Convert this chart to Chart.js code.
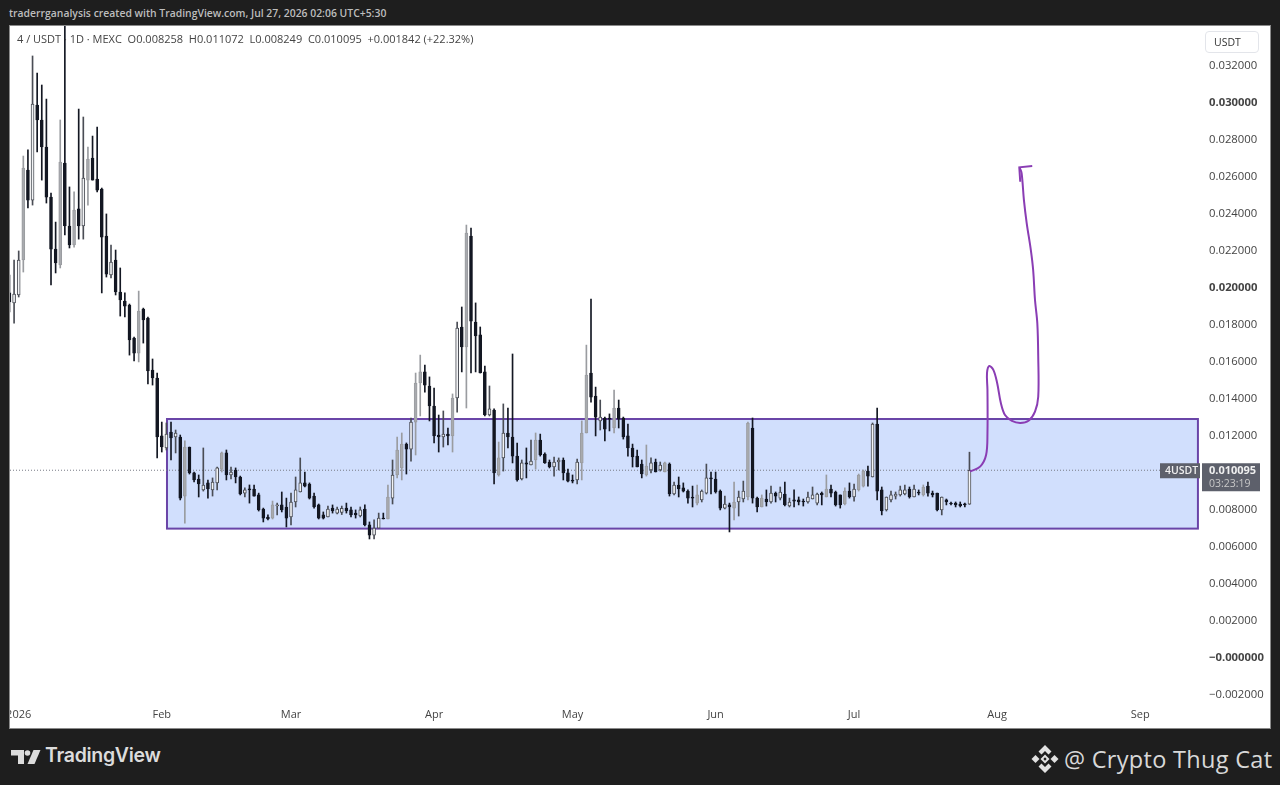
<!DOCTYPE html>
<html><head><meta charset="utf-8">
<style>
html,body{margin:0;padding:0;background:#1e1e1e;width:1280px;height:785px;overflow:hidden;font-family:"Open Sans",sans-serif}
#c{position:absolute;left:10px;top:26px;width:1260px;height:702px;background:#fff;box-shadow:0 0 0 1px #8a8a8a}
.t{position:absolute;white-space:pre}
</style></head><body>
<canvas id="c" width="1260" height="702"></canvas>
<div class="t" style="left:9px;top:6px;font-size:10.4px;font-weight:600;color:#bdbdbd">traderrganalysis created with TradingView.com, Jul 27, 2026 02:06 UTC+5:30</div>
<div class="t" style="left:17px;top:31px;font-size:11px;color:#444">4 / USDT · 1D · MEXC  O0.008258  H0.011072  L0.008249  C0.010095  +0.001842 (+22.32%)</div>
<div class="t" style="left:1205px;top:31px;width:52px;height:20px;border:1px solid #e3e5ea;border-radius:4px;font-size:10.5px;line-height:20px;color:#333;text-indent:8px">USDT</div>
<svg style="position:absolute;left:11px;top:749px" width="30" height="16" viewBox="0 0 30 16"><path d="M0 1h13v14H7V6.5H0z" fill="#dcdcdc"/><circle cx="16.5" cy="4" r="2.8" fill="#dcdcdc"/><path d="M22.5 1H29.5L23.5 15H16.5z" fill="#dcdcdc"/></svg>
<div class="t" style="left:45px;top:743px;font-size:19.5px;font-weight:600;letter-spacing:-.3px;color:#dcdcdc;font-family:Inter,'Open Sans',sans-serif">TradingView</div>
<svg style="position:absolute;left:1031px;top:745px" width="28" height="28" viewBox="0 0 28 28"><g fill="#e2e2e2"><path d="M14 0l6.5 6.5-3 3L14 6l-3.5 3.5-3-3z"/><path d="M14 28l6.5-6.5-3-3L14 22l-3.5-3.5-3 3z"/><path d="M4.5 10l4 4-4 4-4-4z"/><path d="M23.5 10l4 4-4 4-4-4z"/><path d="M14 9.5l4.5 4.5-4.5 4.5-4.5-4.5zM14 12.3L12.3 14l1.7 1.7 1.7-1.7z" fill-rule="evenodd"/></g></svg>
<div class="t" style="left:1064px;top:743px;font-size:23.5px;letter-spacing:.3px;color:#d8d8d8">@ Crypto Thug Cat</div>
<script src="https://cdn.jsdelivr.net/npm/chart.js@4"></script>
<script>
const firstDay=-2;
const opens=[.01968,.01914,.01957,.02146,.02632,.0247,.02984,.02903,.02757,.02486,
.02205,.02119,.0267,.0233,.02227,.02422,.0233,.02578,.02697,.02584,
.0253,.02276,.02065,.02146,.01973,.01924,.01903,.01724,.01643,.01881,
.01832,.01551,.01508,.01195,.0113,.01216,.01189,.01189,.0087,.01135,
.00995,.00962,.00903,.00941,.00903,.00941,.01016,.01103,.00984,.01011,
.00973,.00886,.00908,.00908,.00876,.008,.00757,.00751,.00816,.00822,
.00811,.00757,.00838,.00892,.00941,.00935,.0087,.00822,.00768,.00757,
.00805,.00778,.00781,.00805,.00795,.00778,.00762,.008,.00714,.00659,
.00697,.00751,.00746,.00859,.00984,.01022,.01151,.01124,.0127,.01481,
.01541,.01465,.01357,.012,.01189,.01205,.01195,.014,.01784,.01676,
.02276,.01811,.01741,.01541,.01308,.01335,.00984,.01076,.01211,.01189,
.01086,.00962,.01049,.01038,.01065,.01173,.01097,.01054,.01027,.01054,
.01065,.00995,.00957,.00957,.01049,.01211,.01535,.01411,.01276,.01292,
.01292,.01238,.01346,.01292,.01195,.0113,.01086,.01043,.00984,.01011,
.01054,.01011,.01,.01043,.00881,.0093,.00914,.00897,.00865,.00832,
.00849,.00886,.00968,.00962,.00897,.00805,.00822,.00805,.00838,.00854,
.00865,.01238,.00859,.00811,.00854,.00838,.00886,.00859,.00881,.00816,
.00849,.00849,.00843,.00838,.00854,.00832,.00886,.00865,.00908,.00892,
.00876,.00827,.00897,.00865,.00903,.00924,.01005,.00973,.01259,.00903,
.00795,.00849,.0087,.00876,.00881,.00908,.00865,.00892,.00876,.00924,
.00886,.00886,.00795,.00849,.00832,.00832,.00827,.00827,.008258];
const highs=[.02065,.02146,.02195,.02708,.02741,.03249,.03157,.03092,.03016,.02508,
.02351,.02903,.0349,.02541,.02514,.02962,.02919,.02757,.02816,.02865,
.02535,.02395,.02227,.022,.02103,.01968,.01908,.0173,.01978,.01886,
.01838,.01611,.01535,.0127,.01265,.0127,.01227,.012,.01168,.01135,
.01,.00984,.0113,.00957,.00968,.01027,.01108,.01119,.01027,.01022,
.00978,.00914,.0093,.0093,.00886,.00805,.00768,.00843,.00832,.00892,
.00859,.00886,.00973,.01076,.01,.00941,.00886,.00827,.00784,.00816,
.00822,.00811,.00816,.00832,.00811,.00795,.00811,.00822,.0073,.00741,
.00778,.00778,.0093,.01065,.01189,.01211,.01157,.01292,.01535,.01632,
.01578,.01514,.01454,.01308,.0133,.01238,.01422,.01811,.01892,.02335,
.02319,.01914,.01784,.01573,.01465,.01341,.01162,.01368,.01346,.01638,
.01157,.01065,.0113,.01173,.01211,.01205,.01103,.01065,.01081,.01076,
.01076,.01016,.00984,.0107,.01276,.01686,.01935,.01459,.01389,.01297,
.01314,.01443,.01389,.01297,.01259,.01151,.01119,.01065,.01146,.01076,
.0107,.01054,.01054,.01049,.00946,.00973,.00941,.00903,.00924,.0093,
.00903,.01043,.01,.01,.00903,.0087,.00832,.00946,.00897,.00951,
.0127,.01292,.00865,.00876,.00903,.00924,.00892,.00919,.00946,.00859,
.00903,.00865,.00854,.00892,.00919,.00886,.00892,.00984,.0093,.00897,
.00876,.00914,.00941,.00935,.00989,.01011,.01032,.01265,.01346,.00919,
.00865,.00897,.00892,.00924,.0093,.00919,.0093,.00903,.0093,.00946,
.00897,.00886,.00865,.00854,.00838,.00838,.00838,.00832,.011072];
const lows=[.01865,.01805,.01946,.02081,.02427,.02443,.0273,.02578,.02454,.02011,
.02076,.02103,.02281,.02211,.02216,.02259,.02259,.02443,.02578,.02514,
.01968,.02054,.02049,.01957,.01843,.01838,.01632,.016,.01595,.01697,
.01476,.0147,.01076,.01108,.01119,.01065,.01103,.00849,.00724,.00989,
.00946,.00865,.00897,.00859,.0087,.00903,.01,.00957,.00962,.00941,
.00876,.00865,.00832,.0087,.00789,.0073,.00741,.00746,.00768,.00784,
.00703,.00714,.00811,.00892,.00919,.00854,.00805,.00746,.00746,.00757,
.00778,.00773,.0077,.00778,.00757,.00751,.00757,.00708,.00638,.00638,
.00697,.00746,.00746,.00827,.00968,.00957,.00989,.01059,.01092,.01303,
.01432,.01276,.01157,.01108,.01135,.01146,.01108,.01324,.01541,.01346,
.01535,.01541,.01535,.01303,.01303,.00935,.00978,.01005,.0113,.01049,
.00951,.00957,.00968,.01038,.01016,.01086,.01046,.01022,.00978,.01011,
.00957,.00946,.00941,.00935,.00957,.01211,.01378,.01195,.01227,.01168,
.01222,.01211,.01238,.01178,.01086,.01027,.01027,.00968,.00978,.00995,
.01,.01005,.01,.0087,.00876,.00865,.00892,.00832,.00811,.00822,
.00838,.00881,.00881,.00886,.00795,.008,.00676,.00741,.00762,.00838,
.00849,.00832,.00784,.00811,.00816,.00832,.00838,.00849,.00816,.00811,
.00811,.00822,.00816,.00832,.00854,.00822,.00822,.00865,.00865,.00816,
.00805,.00822,.00859,.00843,.00897,.00919,.00924,.00973,.00849,.00768,
.00789,.00838,.00854,.0087,.00876,.00859,.00865,.00876,.0087,.0087,
.00865,.00789,.00768,.00822,.00822,.00811,.00811,.00811,.008249];
const closes=[.01919,.01962,.02146,.02643,.0247,.02989,.02903,.02757,.02486,.02205,
.0213,.02676,.0233,.02227,.02416,.0233,.02589,.02692,.02578,.02524,
.0227,.0207,.02135,.01973,.0193,.01897,.01714,.01643,.0187,.01822,
.01546,.01508,.01189,.01135,.01205,.01184,.01211,.00859,.01135,.00995,
.00957,.00935,.0093,.00908,.00946,.01022,.01103,.00984,.01,.00973,
.00881,.00903,.00903,.0087,.00795,.00751,.00746,.00822,.00822,.00795,
.00751,.00838,.00903,.00941,.00924,.00859,.00811,.00751,.00751,.008,
.00789,.008,.00803,.00789,.00768,.00768,.00795,.00714,.00659,.00697,
.00751,.00746,.00865,.00984,.01119,.01151,.01124,.0127,.01481,.01541,
.0147,.01357,.01195,.01189,.01205,.01195,.014,.01778,.01676,.02292,
.01816,.01735,.01535,.01308,.01341,.00995,.01076,.01211,.01189,.01086,
.00957,.01049,.01043,.01059,.01173,.01092,.01049,.01027,.01054,.01065,
.00995,.00951,.00951,.01054,.01211,.01524,.01405,.01297,.01297,.01232,
.01286,.01346,.01286,.01189,.0113,.01081,.01027,.00989,.01032,.01049,
.01,.01038,.01049,.00881,.0093,.00908,.00897,.00859,.00859,.00876,
.00897,.00968,.00962,.00892,.00805,.00827,.00811,.00838,.00865,.00897,
.01265,.00859,.00811,.00859,.00838,.00886,.0087,.00892,.00822,.00838,
.00843,.00838,.00838,.00865,.00876,.00881,.00876,.00908,.00886,.00822,
.00822,.00897,.00865,.00908,.00984,.01005,.00978,.01259,.00897,.00789,
.00865,.00876,.00881,.00903,.00903,.00865,.00908,.00886,.00919,.00886,
.00876,.00795,.00865,.00838,.00827,.00822,.00816,.00822,.010095];
const grayUpDays=[1,9,12,15,26,36,44,55,80,82,83,86,87,94,97,104,112,122,123,129,136,140,147,155,158,161,175,179,182,183,196];
const monthDays=[0,31,59,90,120,151,181,212,243];
const monthLabels=['2026','Feb','Mar','Apr','May','Jun','Jul','Aug','Sep'];
const priceTicks=[-.002,0,.002,.004,.006,.008,.012,.014,.016,.018,.02,.022,.024,.026,.028,.03,.032];
const boldTicks=[0,.02,.03];
const rangeDays=[32.13,255.5];
const rangePrices=[.00694,.012865];
const lastClose=.010095;
const lineEndDays=[-1.885,247.3];
const drawDays=[206.1,208.3,209.6,209.9,209.9,209.8,210.3,211.2,212,212.8,213.7,215.2,217,218.8,220.2,220.9,220.9,220.7,220.2,219.8,219.3,218.4,217.8,217.3,216.9];
const drawPrices=[.01002,.01029,.01092,.01211,.01443,.01535,.01573,.01551,.01481,.01373,.01308,.01276,.01265,.01277,.01326,.01407,.01623,.01805,.0193,.02092,.022,.02346,.0247,.02616,.02643];
const arrowDays=[217,216.8,219.6];
const arrowPrices=[.02569,.02647,.02654];
const hollowColor='#4a4d55',grayColor='#9a9ca0',downColor='#131722',purple='#8a3db4';
const xs=opens.map((_,i)=>firstDay+i);
const isUp=opens.map((o,i)=>closes[i]>=o);
const isGray=xs.map(d=>grayUpDays.includes(d));
const edge=isUp.map((u,i)=>u?(isGray[i]?grayColor:hollowColor):downColor);
const fill=isUp.map((u,i)=>u?(isGray[i]?'#a8aaae':'#f2f3f5'):downColor);
const rangePlugin={id:'range',beforeDatasetsDraw(ch){const {x,y}=ch.scales,c=ch.ctx;
 const l=x.getPixelForValue(rangeDays[0]),r=x.getPixelForValue(rangeDays[1]),t=y.getPixelForValue(rangePrices[1]),b=y.getPixelForValue(rangePrices[0]);
 c.save();c.fillStyle='#d1dffd';c.strokeStyle='#6a45a8';c.lineWidth=2;c.fillRect(l,t,r-l,b-t);c.strokeRect(l,t,r-l,b-t);c.restore();},
 afterDraw(ch){const {y}=ch.scales,c=ch.ctx,R=ch.chartArea.right,py=y.getPixelForValue(lastClose);
 c.save();c.fillStyle='#5d606b';c.fillRect(R-43,py-7,40,15);c.fillRect(R-1,py-7,58,28);
 c.textBaseline='middle';c.textAlign='left';c.fillStyle='#f0f0f0';c.font='600 10.5px "Open Sans"';c.fillText('4USDT',R-38,py+0.5);
 c.font='700 11px "Open Sans"';c.fillText(lastClose.toFixed(6),R+6,py+0.5);
 c.fillStyle='#c8c8c8';c.font='10.5px "Open Sans"';c.fillText('03:23:19',R+6,py+13.5);c.restore();}};
new Chart(document.getElementById('c'),{type:'bar',plugins:[rangePlugin],data:{datasets:[
 {type:'line',order:5,data:lineEndDays.map(d=>({x:d,y:lastClose})),borderColor:'#787b86',borderWidth:1,borderDash:[1,2],pointRadius:0},
 {order:4,grouped:false,barThickness:1,data:xs.map((d,i)=>({x:d,y:[lows[i],highs[i]]})),backgroundColor:edge,borderWidth:0},
 {order:3,grouped:false,barThickness:3,minBarLength:1,data:xs.map((d,i)=>({x:d,y:[opens[i],closes[i]]})),backgroundColor:fill,borderColor:edge,borderWidth:1,borderSkipped:false},
 {type:'line',order:1,data:drawDays.map((d,i)=>({x:d,y:drawPrices[i]})),borderColor:purple,borderWidth:2,pointRadius:0,tension:.35},
 {type:'line',order:1,data:arrowDays.map((d,i)=>({x:d,y:arrowPrices[i]})),borderColor:purple,borderWidth:2,pointRadius:0,tension:0}
]},options:{responsive:false,animation:false,devicePixelRatio:1,events:[],layout:{padding:0},
 plugins:{legend:{display:false},tooltip:{enabled:false}},
 scales:{
 x:{type:'linear',offset:false,min:-1.885,max:256.6,grid:{display:false,offset:false,drawTicks:false},border:{display:false},
  afterBuildTicks(s){s.ticks=monthDays.map(v=>({value:v}));},
  afterFit(s){s.height=23;s.paddingLeft=0;s.paddingRight=0;},
  ticks:{autoSkip:false,maxRotation:0,padding:3,color:'#444',font:{family:'"Open Sans"',size:11},callback:v=>monthLabels[monthDays.indexOf(v)]}},
 y:{position:'right',min:-.002595,max:.03411,grid:{display:false,drawTicks:false},border:{display:false},
  afterBuildTicks(s){s.ticks=priceTicks.map(v=>({value:v}));},
  afterFit(s){s.width=67;s.paddingTop=0;s.paddingBottom=0;},
  ticks:{autoSkip:false,padding:6,labelOffset:1,color:'#444',
   font:c=>({family:'"Open Sans"',size:11.3,weight:boldTicks.includes(c.tick&&c.tick.value)?'700':'400'}),
   callback:v=>(v<=0?'\u2212':'')+Math.abs(v).toFixed(6)}}
 }}});
</script>
</body></html>
